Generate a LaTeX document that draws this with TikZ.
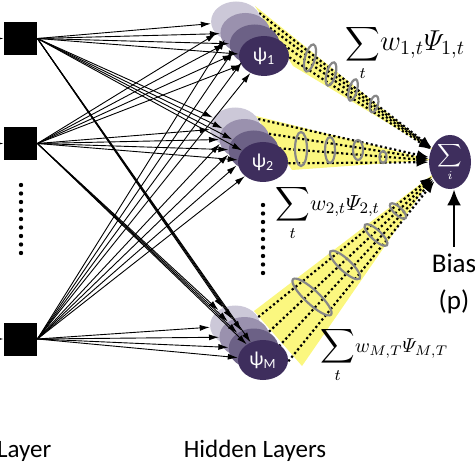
\documentclass[tikz,border=0pt]{standalone}
\usepackage{amsmath}
\usepackage[no-math]{fontspec}
\setmainfont{Carlito}
\usepackage{tikz}
\usetikzlibrary{arrows.meta,positioning,shapes.geometric,calc,backgrounds}
\definecolor{shadeA}{RGB}{204,200,216}
\definecolor{shadeB}{RGB}{154,145,174}
\definecolor{shadeC}{RGB}{108,97,134}
\definecolor{shadeD}{RGB}{62,46,93}
\definecolor{bandyel}{RGB}{250,246,105}
\definecolor{ringgray}{RGB}{135,135,135}
\newcommand{\wterm}[2]{{\fontsize{#1}{16}\selectfont$#2$}}
\tikzset{
  inbox/.style   ={rectangle, fill=black, minimum size=16.5pt, inner sep=0pt},
  psi/.style     ={ellipse, minimum width=25pt, minimum height=20pt, inner sep=0pt,
                   text=white, font=\fontsize{10}{12}\selectfont},
  sumnode/.style ={ellipse, fill=shadeD, minimum width=21pt, minimum height=19pt,
                   inner sep=0pt, text=white, font=\fontsize{8.5}{9}\selectfont},
  link/.style    ={-{Latex[length=5pt,width=3pt]}, line width=0.45pt},
  wave/.style    ={-{Latex[length=6pt,width=4.5pt]}, line width=1.1pt,
                   dash pattern=on 1.1pt off 1.3pt},
  biasarr/.style ={-{Latex[length=8pt,width=7pt]}, line width=1.3pt},
  band/.style    ={fill=bandyel, fill opacity=0.85},
  ring/.style    ={draw=ringgray, line width=1.1pt},
  lbl/.style     ={font=\fontsize{12.5}{18}\selectfont, align=center},
  wsum/.style    ={font=\fontsize{12}{14}\selectfont, inner sep=0pt, anchor=west},
}

\begin{document}
\begin{tikzpicture}[x=0.5pt,y=-0.5pt]
  \useasboundingbox (0,0) rectangle (474,474);

  % input layer
  \node[inbox] (in1) at (20.5,38.5) {};
  \node[inbox] (in2) at (20.5,143.5) {};
  \node[inbox] (inM) at (20.5,339) {};
  \foreach \n in {1,2,M}{
    \coordinate (feed\n) at ($(in\n.west)+(-14,0)$);
    \draw[link] (feed\n) -- (in\n.west);
  }
  \foreach \k in {0,...,8} \fill (21,185+8.5*\k) circle (1.1pt);

  % hidden stacks
  \foreach \s/\fx/\fy in {1/264/56,2/263/162,M/263/360}{
    \node[psi, fill=shadeA] (h\s-a) at (\fx-27.9,\fy-34.5) {};
    \node[psi, fill=shadeB] (h\s-b) at (\fx-18.6,\fy-23) {};
    \node[psi, fill=shadeC] (h\s-c) at (\fx-9.3,\fy-11.5) {};
    \node[psi, fill=shadeD] (h\s-d) at (\fx,\fy) {ψ\textsubscript{\s}};
  }
  \foreach \k in {0,...,8} \fill (263,205+8.5*\k) circle (1.1pt);

  % output and bias
  \node[sumnode] (out) at (450,162) {$\displaystyle\sum_{i}$};
  \node[lbl, font=\fontsize{13.5}{18.5}\selectfont] (bias) at (454,284) {Bias\\(p)};
  \draw[biasarr] (bias.north) -- (bias.north |- out.south);

  % weighted sums
  \node[wsum] (s1) at (345,53) {$\displaystyle\sum_t$\wterm{14.5}{w_{1,t}\varPsi_{1,t}}};
  \node[wsum] (s2) at (275,213) {$\displaystyle\sum_t$\wterm{11}{w_{2,t}\varPsi_{2,t}}};
  \node[wsum] (sM) at (320,355) {$\displaystyle\sum_t$\wterm{10}{w_{M,T}\varPsi_{M,T}}};

  \node[lbl] (hidlab) at (255,451) {Hidden Layers};
  \node[lbl, anchor=west] (inlab) at (-10,451) {Layer};

  % connections into the stacks
  \foreach \n in {1,2,M}
    \foreach \s in {1,2,M}
      \foreach \l in {a,b,c,d}
        \draw[link] (in\n.east) -- (h\s-\l);

  \begin{scope}[on background layer]
    \fill[band] (255,6) -- (293,66) -- (436,152) -- cycle;
    \fill[band] (256,116) -- (292,170) -- (432,160) -- cycle;
    \fill[band] (254,311) -- (302,366) -- (436,172) -- cycle;
    \foreach \s in {1,2,M}
      \foreach \l/\a in {a/20,b/12,c/5,d/-3}
        \draw[wave] (h\s-\l.\a) -- (out);
    % rings
    \foreach \cx/\cy/\ra/\rb/\rot in {310/58/5/14/-15,331/74/4.5/12/-15,353/90/4/11/-15,374/104/4/8.5/-15,
        301/149/6/17/0,330/150/5/13/0,358/150/5/10/0,383/157/3.5/6/0,
        312/297/7/26/47,345/265/6/20/47,376/235/5/15/47,398/211/4/10.5/47}
      \draw[ring, rotate around={\rot:(\cx,\cy)}] (\cx,\cy) ellipse [x radius=\ra, y radius=\rb];
  \end{scope}
\end{tikzpicture}
\end{document}
